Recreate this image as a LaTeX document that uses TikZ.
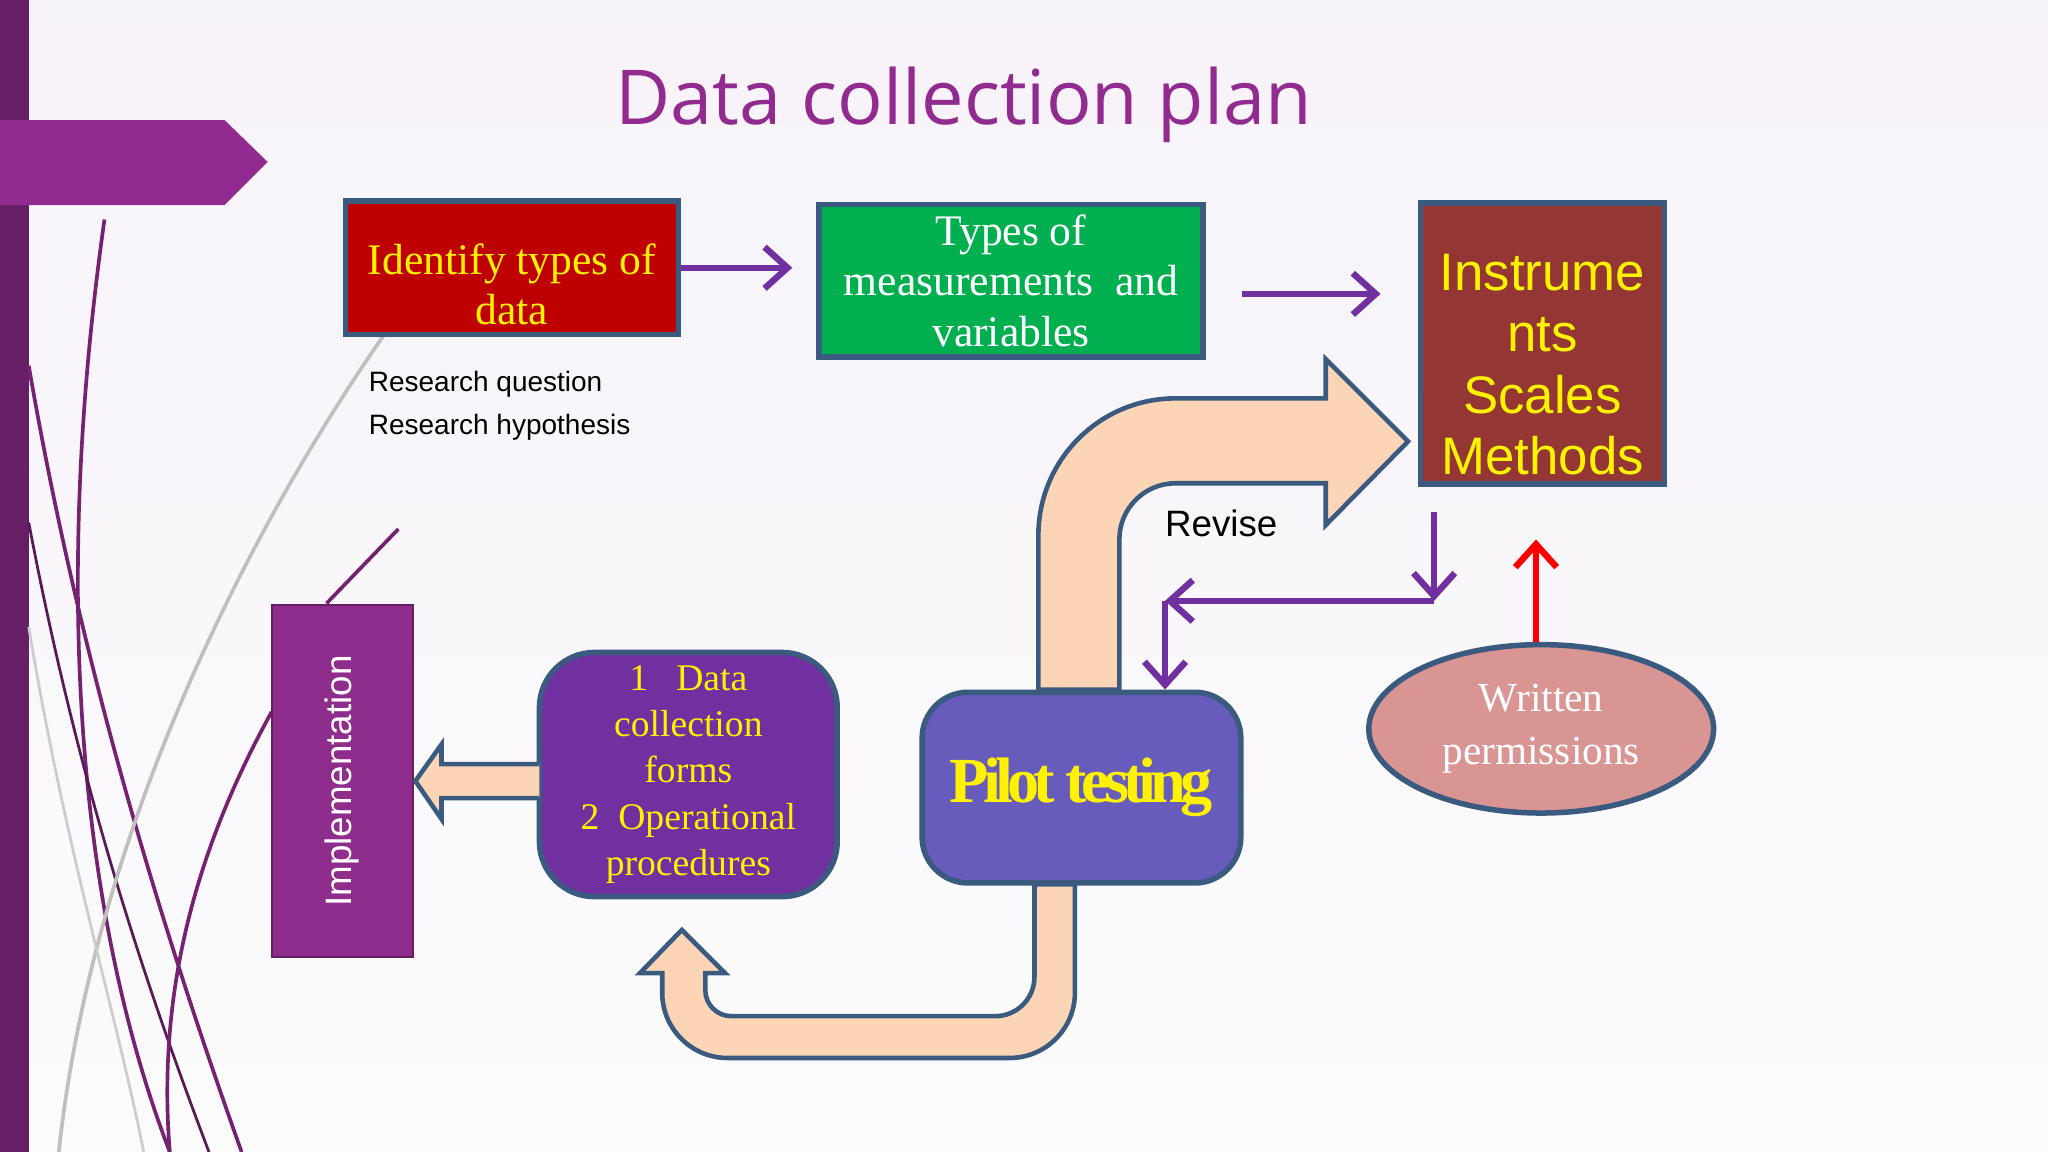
\documentclass[tikz,border=0pt]{standalone}
\usepackage{fontspec}
\setmainfont{Liberation Serif}
\newfontfamily\sansf{Liberation Sans}
\newfontfamily\titlef{Open Sans}
\usetikzlibrary{arrows.meta,positioning,shapes.geometric}
\newdimen\tenthmm \tenthmm=0.1mm
\definecolor{violet}{HTML}{7030A0}
\definecolor{plum}{HTML}{922B8F}
\definecolor{peach}{HTML}{FBD5B5}
\definecolor{edgeblue}{HTML}{3A5A80}
\tikzset{
  box/.style={draw=edgeblue,line width=1.2pt,minimum width=#1,align=center,inner sep=2pt},
  link/.style={-{Straight Barb[length=5pt,width=9pt]},line width=1.4pt,violet},
  fat/.style={fill=peach,draw=edgeblue,line width=1pt}
}
\begin{document}
\begin{tikzpicture}[x=0.1mm,y=-0.1mm]
        \useasboundingbox (0,0) rectangle (1568,882);
        \shade[top color=white!94!violet,bottom color=white!97!gray] (0,0) rectangle (1568,882);

        % left bar and banner
        \fill[plum!70!black] (0,0) rectangle (22,882);
        \fill[plum] (0,92) -- (172,92) -- (205,124) -- (172,157) -- (0,157) -- cycle;

        % decorative lines
        \draw[plum!80!black,line width=.8pt] (80,168) .. controls (40,450) and (60,700) .. (130,882);
        \draw[plum!80!black,line width=.8pt] (22,280) .. controls (60,500) and (120,700) .. (185,882);
        \draw[plum!60!black,line width=.6pt] (22,400) .. controls (60,600) and (110,750) .. (160,882);
        \draw[black!25,line width=.8pt] (295,255) .. controls (180,420) and (70,650) .. (45,882);
        \draw[black!20,line width=.6pt] (22,480) .. controls (50,650) and (90,780) .. (110,882);
        \draw[plum!80!black,line width=.8pt] (305,405) -- (250,462);
        \draw[plum!80!black,line width=.8pt] (208,545) .. controls (150,650) and (120,760) .. (130,882);

        \node[text=plum,font=\titlef\fontsize{16.5}{20}\selectfont] (title) at (738,80) {Data collection plan};

        % boxes
        \node[box=255\tenthmm,minimum height=96\tenthmm,fill=red!75!black,text=yellow,font=\fontsize{9.5}{11}\selectfont] (ident) at (392,205) {\rule{0pt}{14pt}Identify types of\\data};
        \node[box=294\tenthmm,minimum height=117\tenthmm,fill={rgb,255:red,0;green,176;blue,80},text=white,font=\fontsize{9.5}{11}\selectfont] (types) at (774,215) {Types of\\measurements\ \ and\\variables};
        \node[box=187\tenthmm,minimum height=213\tenthmm,fill={rgb,255:red,148;green,54;blue,52},text=yellow,font=\sansf\fontsize{11.5}{13.4}\selectfont] (instr) at (1181,263) {\rule{0pt}{17pt}Instrume\\nts\\Scales\\Methods};
        \node[anchor=north west,align=left,font=\sansf\fontsize{6.1}{9.3}\selectfont] (research) at (270,272) {Research question\\Research hypothesis};
        \node[fill={rgb,255:red,142;green,45;blue,140},draw=plum!70!black,minimum width=270\tenthmm,minimum height=108\tenthmm,rotate=90,text=white,font=\sansf\fontsize{8}{10}\selectfont] (impl) at (262,598) {Implementation};
        \node[box=228\tenthmm,minimum height=187\tenthmm,rounded corners=12pt,fill=violet,text=yellow,font=\fontsize{8.2}{10.1}\selectfont] (forms) at (527,593) {1\ \ \ Data\\collection\\forms\\2\ \ Operational\\procedures};
        \node[box=244\tenthmm,minimum height=146\tenthmm,rounded corners=10pt,fill={rgb,255:red,103;green,91;blue,188},text=yellow,font=\bfseries\fontsize{14}{16}\selectfont] (pilot) at (828,603) {\addfontfeature{LetterSpace=-9}Pilot testing};
        \node[draw=edgeblue,line width=1.2pt,ellipse,fill={rgb,255:red,217;green,149;blue,148},minimum width=264\tenthmm,minimum height=116\tenthmm,text=white,align=center,font=\fontsize{9}{11.4}\selectfont] (perm) at (1180,558) {Written\\permissions};

        % block arrows
        \draw[fat] (795,528) -- (795,410) arc (180:270:105) -- (1015,305) -- (1015,275) -- (1078,338) -- (1015,402) -- (1015,370) -- (900,370) arc (270:180:43) -- (857,528) -- cycle;
        \draw[fat] (823,677) -- (823,760) arc (0:90:50) -- (557,810) arc (90:180:50) -- (507,745) -- (490,745) -- (522,712) -- (555,745) -- (540,745) -- (540,758) arc (180:90:20) -- (762,778) arc (90:0:30) -- (792,677) -- cycle;
        \draw[fat] (413,585) -- (338,585) -- (338,570) -- (318,598) -- (338,627) -- (338,611) -- (413,611);
        \node[font=\sansf\fontsize{8}{10}\selectfont] (revise) at (935,401) {Revise};

        % connectors
        \coordinate (turn) at (1098,460);
        \coordinate (corner) at (892,460);
        \coordinate (up) at (1176,413);
        \draw[link] (ident.east) -- ++(85,0);
        \draw[link] (951,225) -- (1057,225);
        \draw[link] (1098,392) -- (turn);
        \draw[link] (turn) -- (corner);
        \draw[link] (corner) -- (pilot.north -| corner);
        \draw[-{Straight Barb[length=5pt,width=9pt]},line width=1.4pt,red] (perm.north -| up) -- (up);
\end{tikzpicture}
\end{document}
